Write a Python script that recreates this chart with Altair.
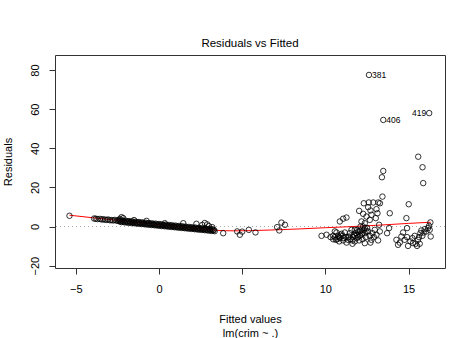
import altair as alt
import pandas as pd

# ---- data ----
band_fitted = [
    -5.38, -3.90, -3.80, -3.70, -3.55, -3.45, -3.35, -3.25, -3.15, -3.05, -2.95, -2.85, -2.75, -2.65, -2.55, -2.45,
    -2.25, -2.15, -2.35,
    -2.40, -2.35, -2.30, -2.25, -2.20, -2.15, -2.10, -2.05, -2.00, -1.95, -1.90, -1.85,
    -1.80, -1.75, -1.70, -1.65, -1.60, -1.55, -1.50, -1.45, -1.40, -1.35, -1.30, -1.25,
    -1.20, -1.15, -1.10, -1.05, -1.00, -0.95, -0.90, -0.85, -0.80, -0.75, -0.70, -0.65,
    -0.60, -0.55, -0.50, -0.45, -0.40, -0.35, -0.30, -0.25, -0.20, -0.15, -0.10, -0.05,
    0.00, 0.05, 0.10, 0.15, 0.20, 0.25, 0.30, 0.35, 0.40, 0.45, 0.50, 0.55,
    0.60, 0.65, 0.70, 0.75, 0.80, 0.85, 0.90, 0.95, 1.00, 1.05, 1.10, 1.15,
    1.20, 1.25, 1.30, 1.35, 1.40, 1.45, 1.50, 1.55, 1.60, 1.65, 1.70, 1.75,
    1.80, 1.85, 1.90, 1.95, 2.00, 2.05, 2.10, 2.15, 2.20, 2.25, 2.30, 2.35,
    2.40, 2.45, 2.50, 2.55, 2.60, 2.65, 2.70, 2.75, 2.80, 2.85, 2.90, 2.95,
    3.00, 3.05, 3.10, 3.15, 3.20, 3.25, 3.30, 3.35,
    -1.50, -0.75, 0.35, 1.46, 2.25, 2.75, 2.90, 2.60, 3.00, 3.20,
    3.86, 4.70, 4.86, 5.00, 5.40, 5.80, 7.10, 7.23, 7.36, 7.57,
]
band_resid = [
    5.50, 4.10, 4.00, 3.80, 3.90, 3.60, 3.70, 3.50, 3.40, 3.60, 3.20, 3.30, 3.10, 3.40, 3.00, 2.90,
    4.80, 4.30, 3.90,
    3.29, 2.55, 2.91, 2.27, 3.13, 2.39, 2.75, 2.11, 2.96, 2.22, 2.58, 1.94,
    2.79, 2.05, 2.41, 1.77, 2.63, 1.89, 2.25, 1.61, 2.46, 1.72, 2.08, 1.44,
    2.30, 1.56, 1.92, 1.28, 2.13, 1.39, 1.75, 1.11, 1.96, 1.22, 1.58, 0.94,
    1.80, 1.06, 1.42, 0.78, 1.63, 0.89, 1.25, 0.61, 1.47, 0.73, 1.09, 0.45,
    1.30, 0.56, 0.92, 0.28, 1.13, 0.39, 0.75, 0.11, 0.97, 0.23, 0.59, -0.05,
    0.80, 0.06, 0.42, -0.22, 0.64, -0.10, 0.26, -0.38, 0.47, -0.27, 0.09, -0.55,
    0.30, -0.44, -0.08, -0.72, 0.14, -0.60, -0.24, -0.88, -0.03, -0.77, -0.41, -1.05,
    -0.19, -0.93, -0.57, -1.21, -0.36, -1.10, -0.74, -1.38, -0.53, -1.27, -0.91, -1.55,
    -0.69, -1.43, -1.07, -1.71, -0.86, -1.60, -1.24, -1.88, -1.02, -1.76, -1.40, -2.04,
    -1.19, -1.93, -1.57, -2.21, -1.36, -2.10, -1.74, -2.38,
    3.30, 2.90, 1.70, 1.70, 1.40, 1.80, 1.10, 0.80, 0.20, -0.30,
    -3.40, -2.50, -4.20, -2.60, -1.70, -3.00, -0.30, -2.00, 2.00, 0.90,
]

high_fitted = [
    12.62, 13.48, 16.24, 15.58, 15.84, 15.88, 13.48, 13.40, 13.43, 15.01, 14.87, 14.91, 13.83, 13.71,
    16.31, 16.33, 13.87,
    12.31, 12.61, 12.88, 13.18, 13.28, 12.03, 12.27, 12.57, 12.71, 12.77, 13.07, 13.13, 12.47, 12.67,
    13.03, 13.23, 12.17, 12.37, 10.87, 11.07, 11.27,
    9.77, 10.07, 10.31, 10.57, 10.63, 10.77, 10.87, 10.97, 11.07, 11.23, 11.37, 11.47, 11.57, 11.67,
    11.77, 11.83, 11.91, 11.97, 12.07, 12.11, 12.17, 12.23, 12.31, 12.37, 12.43, 12.51, 12.57, 12.67,
    12.77, 12.83, 12.91, 12.97, 13.07, 13.17, 13.27, 10.67, 10.47, 10.83, 11.27, 11.63, 11.43, 11.03,
    11.17, 11.71, 12.03, 12.37, 12.71,
    10.47, 10.57, 10.71, 10.83, 10.91, 11.11, 11.37, 11.51, 11.63, 11.77, 11.87, 11.97, 12.17, 12.27,
    12.37, 12.47, 12.23, 12.07, 11.91, 11.77,
    14.27, 14.37, 14.47, 14.57, 14.67, 14.77, 14.91, 14.97, 15.11, 15.23, 15.37, 15.43, 15.51, 15.57,
    15.63, 15.71, 15.77, 15.83, 15.91, 15.97, 16.07, 16.17, 16.23, 16.27, 15.27, 15.67,
]
high_resid = [
    77.5, 54.5, 58.0, 35.7, 30.3, 22.2, 28.4, 25.2, 15.3, 11.4, 4.3, -0.8, -0.8, -3.4,
    2.1, -5.1, 6.8,
    11.9, 12.3, 12.3, 12.3, 11.9, 8.0, 6.5, 9.9, 8.2, 6.0, 8.9, 6.8, 5.1, 3.4,
    4.3, 0.9, 2.6, 1.7, 2.6, 4.0, 4.6,
    -4.75, -4.2, -5.4, -2.5, -6.8, -4.75, -5.9, -3.7, -7.1, -5.4, -6.8, -3.4, -1.7, -5.4,
    -7.6, -3.4, -1.7, -5.4, -2.5, 0.0, -4.2, -6.5, -1.7, -3.4, -5.4, -0.8, -2.5, -4.75,
    -6.8, -3.4, -5.4, -1.7, -4.2, -7.1, -2.5, -3.05, -6.5, -7.6, -8.2, -8.8, -5.1, -4.75,
    -3.05, -4.2, -7.1, -8.5, -8.2,
    -4.75, -5.4, -6.5, -5.4, -4.2, -5.9, -5.4, -6.5, -7.1, -4.75, -5.9, -2.5, -1.7, 0.0,
    -0.8, -2.5, -3.4, -4.75, -4.2, -1.7,
    -6.8, -9.35, -8.2, -5.1, -3.05, -6.8, -5.4, -9.9, -7.6, -5.9, -4.75, -8.8, -9.9, -6.8,
    -5.4, -3.4, -2.0, -4.75, -3.05, -1.35, -2.5, -0.8, 0.35, -1.7, -8.5, -8.8,
]

smooth_fitted = [-5.38, -4.0, -3.0, -2.0, -1.0, 0.0, 1.0, 2.0, 3.0, 3.5, 4.5, 5.5, 7.0, 8.5, 10.0, 11.0, 12.0, 13.0, 14.0, 15.0, 16.33]
smooth_resid = [5.8, 4.5, 3.6, 2.7, 1.85, 1.0, 0.15, -0.75, -1.6, -1.95, -2.2, -2.1, -1.7, -1.2, -0.6, -0.25, 0.15, 0.6, 1.1, 1.6, 2.2]

label_ids = ["381", "406", "419"]
label_fitted = [12.62, 13.48, 16.24]
label_resid = [77.5, 54.5, 58.0]
label_side = ["right", "right", "left"]

x_ticks = [-5, 0, 5, 10, 15]
y_ticks = [-20, 0, 20, 40, 60, 80]

# ---- tables ----
pts = pd.DataFrame({
    "fitted": band_fitted + high_fitted,
    "resid": band_resid + high_resid,
})
smooth = pd.DataFrame({"fitted": smooth_fitted, "resid": smooth_resid})
labels = pd.DataFrame({"id": label_ids, "fitted": label_fitted, "resid": label_resid, "side": label_side})
zero = pd.DataFrame({"h": [0]})

FONT = "Liberation Sans"

xs = alt.Scale(domain=[-6.25, 17.19], nice=False, zero=False)
ys = alt.Scale(domain=[-21.2, 87.7], nice=False, zero=False)

xaxis = alt.Axis(values=x_ticks, domain=False, grid=False, tickSize=6, tickColor="#333333",
                 labelFontSize=11, labelPadding=9, labelColor="black",
                 title=["Fitted values", "lm(crim ~ .)"], titleFontSize=11, titleFontWeight="normal",
                 titleLineHeight=14, titlePadding=19, titleColor="black")
yaxis = alt.Axis(values=y_ticks, domain=False, grid=False, tickSize=6, tickColor="#333333",
                 labelFontSize=11, labelPadding=9, labelAngle=270, labelAlign="center",
                 labelBaseline="bottom", labelColor="black",
                 title="Residuals", titleFontSize=11, titleFontWeight="normal", titlePadding=16,
                 titleColor="black")

points = alt.Chart(pts).mark_point(filled=False, color="black", size=30, strokeWidth=0.8, opacity=1).encode(
    x=alt.X("fitted:Q", scale=xs, axis=xaxis),
    y=alt.Y("resid:Q", scale=ys, axis=yaxis),
)

zline = alt.Chart(zero).mark_rule(color="#aaaaaa", strokeDash=[1, 3], strokeWidth=1).encode(
    y=alt.Y("h:Q", scale=ys)
)

red = alt.Chart(smooth).mark_line(color="red", strokeWidth=1, interpolate="monotone").encode(
    x=alt.X("fitted:Q", scale=xs),
    y=alt.Y("resid:Q", scale=ys),
)

lab_r = alt.Chart(labels).transform_filter(alt.datum.side == "right").mark_text(
    align="left", baseline="middle", dx=3, fontSize=8.5, font=FONT, color="black"
).encode(x=alt.X("fitted:Q", scale=xs), y=alt.Y("resid:Q", scale=ys), text="id:N")

lab_l = alt.Chart(labels).transform_filter(alt.datum.side == "left").mark_text(
    align="right", baseline="middle", dx=-3, fontSize=8.5, font=FONT, color="black"
).encode(x=alt.X("fitted:Q", scale=xs), y=alt.Y("resid:Q", scale=ys), text="id:N")

chart = alt.layer(zline, red, points, lab_r, lab_l).properties(
    width=390, height=213,
    title=alt.TitleParams("Residuals vs Fitted", fontSize=11.5, fontWeight="normal", font=FONT,
                          anchor="middle", offset=6, color="black"),
    autosize=alt.AutoSizeParams(type="none"),
    padding={"left": 55, "top": 55, "right": 29, "bottom": 70},
).configure(font=FONT, background="white").configure_view(
    stroke="#333333", strokeWidth=1
).configure_axis(labelFont=FONT, titleFont=FONT)

chart.save("out.html", embed_options={"renderer": "svg", "actions": False})
